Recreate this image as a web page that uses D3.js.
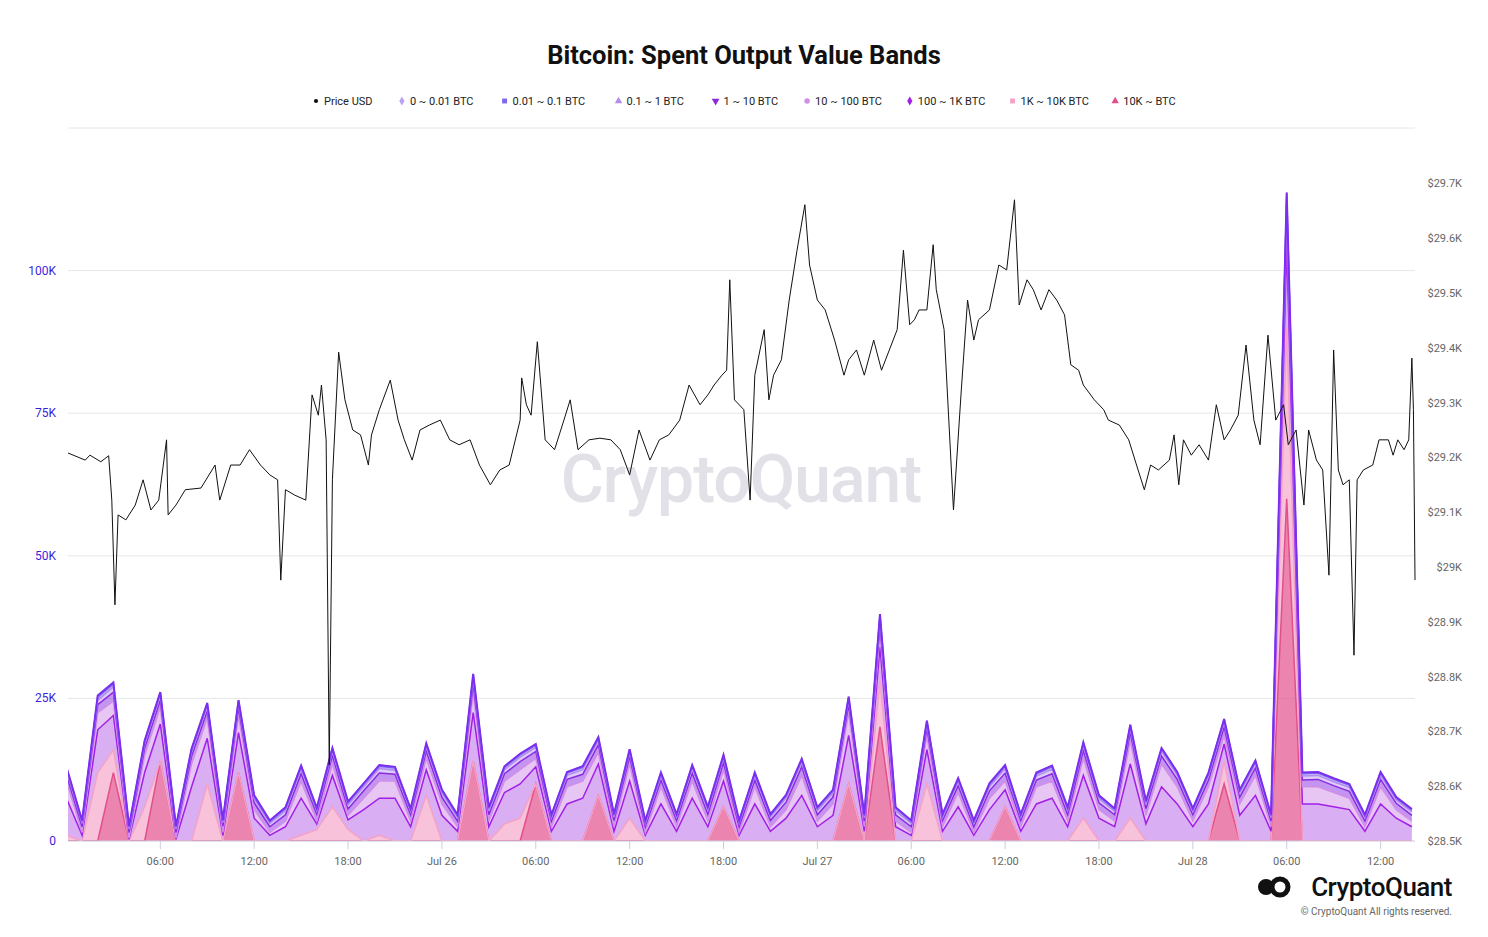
<!DOCTYPE html>
<html><head><meta charset="utf-8">
<script src="https://cdn.jsdelivr.net/npm/d3@7/dist/d3.min.js"></script>
<style>body{margin:0;background:#fff;font-family:Roboto,"Open Sans",sans-serif}</style>
</head><body><svg id="c" width="1488" height="937"></svg>
<script>
// hours since Jul 25 2023 00:00 UTC, price USD
const priceHours=[0.1,1.2,1.5,2.2,2.7,2.9,3.1,3.3,3.8,4.4,4.9,5.4,5.9,6.4,6.5,7.0,7.6,8.6,9.5,9.8,10.5,11.1,11.7,12.4,13.0,13.5,13.7,14.0,14.6,15.3,15.7,16.1,16.3,16.6,16.8,17.0,17.4,17.8,18.3,18.8,19.3,19.5,20.0,20.7,21.2,21.6,22.1,22.6,23.2,23.9,24.5,25.1,25.8,26.4,27.1,27.7,28.3,29.0,29.1,29.4,29.7,30.1,30.6,31.2,31.8,32.2,32.7,33.4,34.1,34.8,35.4,36.0,36.6,37.3,37.9,38.5,39.2,39.8,40.5,41.0,41.4,41.9,42.2,42.4,42.7,43.3,43.7,44.0,44.6,44.9,45.2,45.7,46.2,46.7,47.2,47.5,48.0,48.5,49.1,49.7,50.0,50.5,51.0,51.6,52.1,52.6,53.1,53.5,53.9,54.2,54.5,55.0,55.4,55.6,56.1,56.7,57.2,57.6,58.0,58.3,59.0,59.6,60.1,60.6,60.9,61.4,61.8,62.3,62.8,63.3,63.8,64.2,64.7,65.0,65.7,66.3,66.6,67.3,67.9,68.5,68.9,69.3,69.8,70.5,70.8,71.1,71.4,71.9,72.4,73.0,73.5,74.0,74.4,74.9,75.4,75.9,76.3,76.8,77.3,77.8,78.1,78.6,79.1,79.4,79.9,80.3,80.7,81.0,81.3,81.6,82.0,82.3,82.5,82.9,83.5,83.9,84.5,84.8,85.1,85.5,85.8,86.0,86.1,86.2];
const priceValues=[29208,29195,29204,29192,29203,29122,28931,29095,29086,29113,29159,29104,29122,29232,29095,29113,29141,29144,29186,29122,29186,29186,29214,29186,29168,29159,28976,29141,29131,29122,29314,29277,29332,29232,28639,29159,29392,29305,29250,29241,29186,29241,29287,29341,29268,29232,29195,29250,29259,29268,29232,29223,29232,29186,29150,29177,29186,29268,29345,29296,29277,29411,29232,29214,29268,29305,29214,29232,29235,29232,29214,29168,29250,29195,29232,29241,29268,29332,29296,29314,29332,29350,29359,29524,29305,29287,29122,29350,29433,29305,29350,29378,29487,29578,29661,29551,29487,29469,29414,29350,29378,29396,29350,29414,29359,29396,29433,29578,29442,29451,29469,29469,29588,29506,29433,29104,29323,29487,29414,29451,29469,29551,29542,29670,29478,29524,29506,29469,29506,29487,29460,29369,29359,29332,29305,29287,29268,29259,29232,29177,29141,29186,29177,29195,29241,29150,29232,29204,29223,29195,29296,29232,29250,29277,29405,29268,29223,29423,29268,29296,29223,29250,29113,29250,29195,29177,28985,29396,29177,29150,29159,28839,29159,29177,29186,29232,29232,29204,29232,29214,29232,29381,29287,28976];
// hourly band values (K BTC), index = hour since Jul 25 00:00
const b10k=[0,0,0,12,0,0,14,0,0,0,0,12,0,0,0,0,0,0,0,0,0,0,0,0,0,0,14,0,0,0,10,0,0,0,8,0,0,0,0,0,0,0,6,0,0,0,0,0,0,0,10,0,20,0,0,0,0,0,0,0,6,0,0,0,0,0,0,0,0,0,0,0,0,0,10,0,0,0,60,0,0,0,0,0,0,0,0];
const b1k=[1,0,12,4,0,6,0,0,0,10,0,0,0,0,0,1,2,6,2,0,1,0,0,8,0,0,0,0,3,4,0,0,0,0,0,0,4,0,0,0,0,0,0,0,0,0,0,0,0,0,0,0,8,0,0,10,0,0,0,0,0,0,0,0,0,4,0,0,4,0,0,0,0,0,4,0,0,0,30,0,0,0,0,0,0,0,0];
const b100=[6.5,1,7.5,6,0.3,6,6.5,0.3,9.5,8,1,7,4,1,2.5,6.5,1,5.5,1.7,5.5,6.5,7.5,2.5,4.5,4.5,1.7,8.5,2.5,5.5,6,3,1.7,6.5,7.5,5.5,1.7,6.5,1,6.5,1.7,7.5,2.5,4.5,1,6.5,1.7,4,8,2.5,4.5,8.5,1.7,6,2.5,1,6,1.7,6,1,5.5,3,1.7,6.5,7.5,2.5,7.5,4,2.5,9.5,3,9.5,6.5,2.5,6.5,3,4.5,8,1.7,14.5,6.5,6.5,6,5.5,1.7,6.5,4,2.5];
const b10=[3,0.5,3,2.5,0.2,3,3,0.2,4,3.5,0.5,3,1.5,0.5,1,3,0.5,2,0.8,2,3,3,1,2,2,0.8,3.5,1,2,2.5,1.5,0.8,3,3,2,0.8,3,0.5,3,0.8,3,1,2,0.5,3,0.8,1.5,3.5,1,2,4,0.8,2.5,1,0.5,2.5,0.8,2.5,0.5,2,1.5,0.8,3,3,1,3,1.5,1,4,1.5,4,3,1,3,1.5,2,3.5,0.8,5,3,3,2.5,2,0.8,3,1.5,1];
const b1=[1.2,1.0,1.4,1.6,1.0,1.3,1.2,1.0,1.4,1.3,1.1,1.4,1.2,1.0,1.1,1.3,1.2,1.5,1.1,1.3,1.4,1.2,1.1,1.3,1.2,1.0,1.6,1.1,1.3,1.4,1.2,1.0,1.3,1.2,1.4,1.1,1.3,1.0,1.2,1.1,1.4,1.2,1.3,1.0,1.2,1.1,1.3,1.5,1.1,1.2,1.4,1.0,1.6,1.1,1.0,1.3,1.1,1.2,1.0,1.3,1.4,1.1,1.2,1.3,1.1,1.4,1.2,1.1,1.5,1.2,1.4,1.3,1.1,1.2,1.5,1.2,1.3,1.0,2.0,1.2,1.3,1.2,1.2,1.0,1.3,1.1,1.0];
const b01=[0.7,0.6,0.8,0.9,0.6,0.7,0.8,0.6,0.7,0.8,0.6,0.7,0.7,0.6,0.7,0.8,0.6,0.7,0.7,0.7,0.8,0.7,0.6,0.7,0.7,0.6,0.9,0.7,0.7,0.8,0.7,0.6,0.7,0.8,0.7,0.6,0.7,0.6,0.7,0.6,0.8,0.7,0.7,0.6,0.7,0.6,0.7,0.8,0.7,0.7,0.8,0.6,0.9,0.7,0.6,0.7,0.6,0.7,0.6,0.7,0.8,0.6,0.7,0.8,0.7,0.8,0.7,0.6,0.8,0.7,0.8,0.7,0.6,0.7,0.8,0.7,0.7,0.6,1.2,0.7,0.7,0.7,0.7,0.6,0.7,0.6,0.6];
const b001=[0.4,0.3,0.5,0.5,0.3,0.4,0.4,0.3,0.4,0.4,0.3,0.4,0.4,0.3,0.4,0.4,0.3,0.4,0.4,0.4,0.4,0.4,0.3,0.4,0.4,0.3,0.5,0.4,0.4,0.4,0.4,0.3,0.4,0.4,0.4,0.3,0.4,0.3,0.4,0.3,0.4,0.4,0.4,0.3,0.4,0.3,0.4,0.4,0.4,0.4,0.4,0.3,0.5,0.4,0.3,0.4,0.3,0.4,0.3,0.4,0.4,0.3,0.4,0.4,0.4,0.4,0.4,0.3,0.4,0.4,0.4,0.4,0.3,0.4,0.4,0.4,0.4,0.3,0.6,0.4,0.4,0.4,0.4,0.3,0.4,0.3,0.3];
const b0=[0.2,0.2,0.3,0.3,0.2,0.2,0.2,0.2,0.2,0.2,0.2,0.2,0.2,0.2,0.2,0.2,0.2,0.2,0.2,0.2,0.2,0.2,0.2,0.2,0.2,0.2,0.3,0.2,0.2,0.2,0.2,0.2,0.2,0.2,0.2,0.2,0.2,0.2,0.2,0.2,0.2,0.2,0.2,0.2,0.2,0.2,0.2,0.2,0.2,0.2,0.2,0.2,0.3,0.2,0.2,0.2,0.2,0.2,0.2,0.2,0.2,0.2,0.2,0.2,0.2,0.2,0.2,0.2,0.2,0.2,0.2,0.2,0.2,0.2,0.2,0.2,0.2,0.2,0.4,0.2,0.2,0.2,0.2,0.2,0.2,0.2,0.2];
const seriesNames=["Price USD","0 ~ 0.01 BTC","0.01 ~ 0.1 BTC","0.1 ~ 1 BTC","1 ~ 10 BTC","10 ~ 100 BTC","100 ~ 1K BTC","1K ~ 10K BTC","10K ~ BTC"];
const leftTicks=[0,25000,50000,75000,100000];
const rightTicks=[28500,28600,28700,28800,28900,29000,29100,29200,29300,29400,29500,29600,29700];

const colors=["#111","#b9a3ef","#7b68ee","#b48cf0","#8a2be2","#d18ee8","#a020e8","#f4a2c6","#e2508c"];
const symbols=[d3.symbolCircle,d3.symbolDiamond,d3.symbolSquare,d3.symbolTriangle,"tri-down",d3.symbolCircle,d3.symbolDiamond,d3.symbolSquare,d3.symbolTriangle];
const bands=[b10k,b1k,b100,b10,b1,b01,b001,b0];
const bandColors=[colors[8],colors[7],"#b35ee6",colors[5],colors[4],colors[3],colors[2],colors[1]];

const svg=d3.select("#c");
const L=68,R=1415,T=128,B=841;
const t0=Date.UTC(2023,6,25,0,0);
const hr=h=>new Date(t0+h*3600e3);
const x=d3.scaleUtc().domain([hr(0.1),hr(86.2)]).range([L,R]);
const yL=d3.scaleLinear().domain([0,125000]).range([B,T]);
const yR=d3.scaleLinear().domain([28500,29801]).range([B,T]);

svg.append("text").attr("x",744).attr("y",64).attr("text-anchor","middle").attr("font-size",25.5).attr("font-weight","bold").attr("fill","#111").text("Bitcoin: Spent Output Value Bands");

let lx=316;
seriesNames.forEach((n,i)=>{
  const g=svg.append("g").attr("transform",`translate(${lx},101)`);
  if(symbols[i]==="tri-down") g.append("path").attr("d",d3.symbol(d3.symbolTriangle,26)()).attr("transform","rotate(180)").attr("fill",colors[i]);
  else g.append("path").attr("d",d3.symbol(symbols[i],i==0?14:24)()).attr("fill",colors[i]);
  g.append("text").attr("x",8).attr("y",4).attr("font-size",11).attr("fill","#222").text(n);
  lx+=n.length*5.6+35.5;
});
svg.append("line").attr("x1",L).attr("x2",R).attr("y1",T).attr("y2",T).attr("stroke","#e6e6e6");

svg.append("text").attr("x",741).attr("y",502).attr("text-anchor","middle").attr("font-size",66).attr("font-weight",500).attr("fill","#e3e1e8").attr("letter-spacing",-1).text("CryptoQuant");

leftTicks.forEach(v=>{
  if(v>0) svg.append("line").attr("x1",L).attr("x2",R).attr("y1",yL(v)).attr("y2",yL(v)).attr("stroke","#e6e6e6");
  svg.append("text").attr("x",56).attr("y",yL(v)+4).attr("text-anchor","end").attr("font-size",12).attr("fill","#3b1fe0").text(v==0?"0":d3.format("~s")(v).replace("k","K"));
});
rightTicks.forEach(v=>{
  svg.append("text").attr("x",1462).attr("y",yR(v)+4).attr("text-anchor","end").attr("font-size",11).attr("fill","#666").text("$"+d3.format(".1f")(v/1000).replace(".0","")+"K");
});

const hours=d3.range(b0.length);
const stackData=hours.map(h=>{const o={h};bands.forEach((b,i)=>o["s"+i]=b[h]*1000);return o;});
const stack=d3.stack().keys(bands.map((b,i)=>"s"+i))(stackData);
const area=d3.area().x(d=>x(hr(d.data.h))).y0(d=>yL(d[0])).y1(d=>yL(d[1]));
const line=d3.line().x(d=>x(hr(d.data.h))).y(d=>yL(d[1]));
svg.append("clipPath").attr("id","cp").append("rect").attr("x",L).attr("y",T).attr("width",R-L).attr("height",B-T);
const gA=svg.append("g").attr("clip-path","url(#cp)");
const ops=[0.7,0.65,0.5,0.5,0.5,0.45,0.45,0.45];
for(let i=stack.length-1;i>=0;i--){
  gA.append("path").datum(stack[i]).attr("d",area).attr("fill",bandColors[i]).attr("fill-opacity",ops[i]);
}
stack.forEach((s,i)=>{
  gA.append("path").datum(s).attr("d",line).attr("fill","none").attr("stroke",i==2?"#a020e8":bandColors[i]).attr("stroke-width",1.5);
});
gA.append("path").datum(stack[stack.length-1]).attr("d",line).attr("fill","none").attr("stroke","#7a2ef0").attr("stroke-width",2);

const pdata=priceHours.map((h,i)=>({t:hr(h),v:priceValues[i]}));
svg.append("path").datum(pdata).attr("d",d3.line().x(d=>x(d.t)).y(d=>yR(d.v))).attr("fill","none").attr("stroke","#111").attr("stroke-width",1);

svg.append("line").attr("x1",L).attr("x2",R).attr("y1",B).attr("y2",B).attr("stroke","#ccd");
x.ticks(d3.utcHour.every(6)).forEach(t=>{
  const px=x(t);
  svg.append("line").attr("x1",px).attr("x2",px).attr("y1",B).attr("y2",B+8).attr("stroke","#ccd");
  const lab=t.getUTCHours()==0?d3.utcFormat("%b %-d")(t):d3.utcFormat("%H:%M")(t);
  svg.append("text").attr("x",px).attr("y",865).attr("text-anchor","middle").attr("font-size",11).attr("fill","#666").text(lab);
});

const lg=svg.append("g").attr("transform","translate(1258,887)");
lg.append("circle").attr("cx",8).attr("cy",0).attr("r",8).attr("fill","#111");
lg.append("circle").attr("cx",22).attr("cy",0).attr("r",8).attr("fill","none").attr("stroke","#111").attr("stroke-width",5);
svg.append("text").attr("x",1452).attr("y",896).attr("text-anchor","end").attr("font-size",26).attr("font-weight",500).attr("fill","#111").attr("letter-spacing",-0.5).text("CryptoQuant");
svg.append("text").attr("x",1452).attr("y",915).attr("text-anchor","end").attr("font-size",10).attr("fill","#666").text("© CryptoQuant All rights reserved.");
</script></body></html>
